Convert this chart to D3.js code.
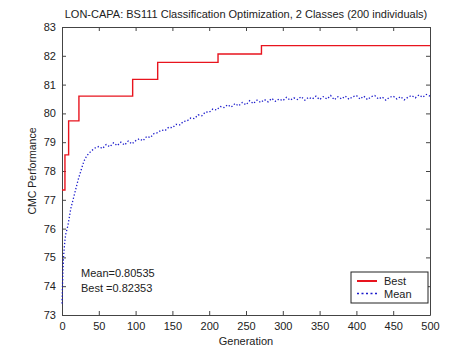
<!DOCTYPE html>
<html>
<head>
<meta charset="utf-8">
<script src="https://cdn.jsdelivr.net/npm/d3@7"></script>
<style>
    body { margin: 0; background: #fff; }
    svg text { font-family: "Liberation Sans", Arial, sans-serif; fill: #222; }
    .axis path, .axis line { stroke: #444; }
    .axis text { font-size: 11px; }
</style>
</head>
<body>
<div class="chart"></div>
<script>
// best-so-far performance (step changes)
const bestGenerations = [0, 4, 9, 23, 96, 130, 212, 271, 500];
const bestValues = [77.34, 78.56, 79.74, 80.6, 81.18, 81.77, 82.06, 82.353, 82.353];

// population mean performance
const meanGenerations = [
    0, 1, 2, 3, 4, 5, 6, 8, 10, 12, 15, 18, 20, 22, 25, 28, 30, 33, 36, 40,
    45, 50, 55, 60, 65, 70, 75, 80, 85, 90, 95, 100, 105, 110, 115, 120, 125, 130, 135, 140,
    145, 150, 155, 160, 165, 170, 175, 180, 185, 190, 195, 200, 205, 210, 215, 220, 225, 230, 235, 240,
    245, 250, 255, 260, 265, 270, 275, 280, 285, 290, 295, 300, 305, 310, 315, 320, 325, 330, 335, 340,
    345, 350, 355, 360, 365, 370, 375, 380, 385, 390, 395, 400, 405, 410, 415, 420, 425, 430, 435, 440,
    445, 450, 455, 460, 465, 470, 475, 480, 485, 490, 495, 500
];
const meanValues = [
    73.4, 74.3, 75.0, 75.3, 75.6, 75.8, 75.9, 76.1, 76.4, 76.7, 77.0, 77.3, 77.5, 77.7, 77.95, 78.2, 78.35, 78.5, 78.6, 78.7,
    78.8, 78.85, 78.78, 78.92, 78.84, 78.98, 78.88, 79.0, 78.9, 79.04, 78.94, 79.05, 79.12, 79.05, 79.2, 79.16, 79.3, 79.33, 79.42, 79.4,
    79.52, 79.5, 79.62, 79.6, 79.72, 79.74, 79.84, 79.82, 79.95, 79.92, 80.05, 80.04, 80.15, 80.12, 80.24, 80.2, 80.3, 80.22, 80.34, 80.26,
    80.38, 80.3, 80.44, 80.34, 80.46, 80.38, 80.48, 80.4, 80.52, 80.42, 80.5, 80.44, 80.56, 80.46, 80.54, 80.48, 80.58, 80.46, 80.56, 80.5,
    80.6, 80.48, 80.58, 80.5, 80.62, 80.47, 80.58, 80.5, 80.6, 80.49, 80.58, 80.62, 80.5, 80.6, 80.48, 80.58, 80.62, 80.5, 80.57, 80.46,
    80.56, 80.6, 80.5, 80.58, 80.47, 80.56, 80.62, 80.54, 80.64, 80.56, 80.66, 80.6
];

const xTicks = [0, 50, 100, 150, 200, 250, 300, 350, 400, 450, 500];
const yTicks = [73, 74, 75, 76, 77, 78, 79, 80, 81, 82, 83];
const legendLabels = ['Best', 'Mean'];
const notes = ['Mean=0.80535', 'Best =0.82353'];

class GaChart {
    constructor() {
        this.container = document.querySelector('.chart');
        this.margin = { top: 27, right: 44, bottom: 39, left: 62 };
        this.width = 474 - this.margin.left - this.margin.right;
        this.height = 354 - this.margin.top - this.margin.bottom;

        this.appendSVG();
        this.scaleX();
        this.scaleY();
        this.addAxes();
        this.addLines();
        this.addLabels();
        this.addLegend();
    }

    appendSVG() {
        this.root = d3.select(this.container)
            .append('svg')
            .attr('width', 474)
            .attr('height', 354);
        this.svg = this.root.append('g')
            .attr('transform', `translate(${this.margin.left}, ${this.margin.top})`);
    }

    scaleX() {
        this.x = d3.scaleLinear().domain([0, 500]).range([0, this.width]);
    }

    scaleY() {
        this.y = d3.scaleLinear().domain([73, 83]).range([this.height, 0]);
    }

    addAxes() {
        // matlab style box: ticks inside on all four sides
        this.svg.append('g')
            .attr('class', 'axis')
            .attr('transform', `translate(0,${this.height})`)
            .call(d3.axisBottom(this.x).tickValues(xTicks).tickSize(-4).tickPadding(7).tickSizeOuter(0));
        this.svg.append('g')
            .attr('class', 'axis')
            .call(d3.axisLeft(this.y).tickValues(yTicks).tickSize(-4).tickPadding(6).tickSizeOuter(0));
        this.svg.append('g')
            .attr('class', 'axis')
            .call(d3.axisTop(this.x).tickValues(xTicks).tickSize(-4).tickFormat('').tickSizeOuter(0));
        this.svg.append('g')
            .attr('class', 'axis')
            .attr('transform', `translate(${this.width},0)`)
            .call(d3.axisRight(this.y).tickValues(yTicks).tickSize(-4).tickFormat('').tickSizeOuter(0));
    }

    addLines() {
        const best = bestGenerations.map((g, i) => [g, bestValues[i]]);
        const mean = meanGenerations.map((g, i) => [g, meanValues[i]]);

        this.svg.append('path')
            .datum(mean)
            .attr('fill', 'none')
            .attr('stroke', '#1a1acc')
            .attr('stroke-width', 1.3)
            .attr('stroke-dasharray', '1.3,2')
            .attr('d', d3.line().x(d => this.x(d[0])).y(d => this.y(d[1])));

        this.svg.append('path')
            .datum(best)
            .attr('fill', 'none')
            .attr('stroke', '#e8141e')
            .attr('stroke-width', 1.4)
            .attr('d', d3.line().curve(d3.curveStepAfter).x(d => this.x(d[0])).y(d => this.y(d[1])));
    }

    addLabels() {
        this.root.append('text')
            .attr('x', this.margin.left + this.width / 2)
            .attr('y', 18)
            .attr('text-anchor', 'middle')
            .style('font-size', '11px')
            .text('LON-CAPA: BS111 Classification Optimization, 2 Classes (200 individuals)');

        this.root.append('text')
            .attr('x', this.margin.left + this.width / 2)
            .attr('y', 345)
            .attr('text-anchor', 'middle')
            .style('font-size', '11px')
            .text('Generation');

        this.root.append('text')
            .attr('transform', `translate(36, ${this.margin.top + this.height / 2}) rotate(-90)`)
            .attr('text-anchor', 'middle')
            .style('font-size', '10.5px')
            .text('CMC Performance');

        notes.forEach((t, i) => {
            this.root.append('text')
                .attr('x', 81)
                .attr('y', 277 + i * 15)
                .style('font-size', '11px')
                .text(t);
        });
    }

    addLegend() {
        const lg = this.root.append('g').attr('transform', 'translate(351, 272)');
        lg.append('rect')
            .attr('width', 77)
            .attr('height', 31)
            .attr('fill', '#fff')
            .attr('stroke', '#222');
        const styles = [
            { stroke: '#e8141e', dash: null, w: 2 },
            { stroke: '#1a1acc', dash: '2,2.5', w: 1.5 },
        ];
        legendLabels.forEach((label, i) => {
            const yy = 9 + i * 12.5;
            lg.append('line')
                .attr('x1', 6).attr('x2', 26)
                .attr('y1', yy).attr('y2', yy)
                .attr('stroke', styles[i].stroke)
                .attr('stroke-width', styles[i].w)
                .attr('stroke-dasharray', styles[i].dash);
            lg.append('text')
                .attr('x', 33)
                .attr('y', yy + 4)
                .style('font-size', '11px')
                .text(label);
        });
    }
}

new GaChart();
</script>
</body>
</html>
